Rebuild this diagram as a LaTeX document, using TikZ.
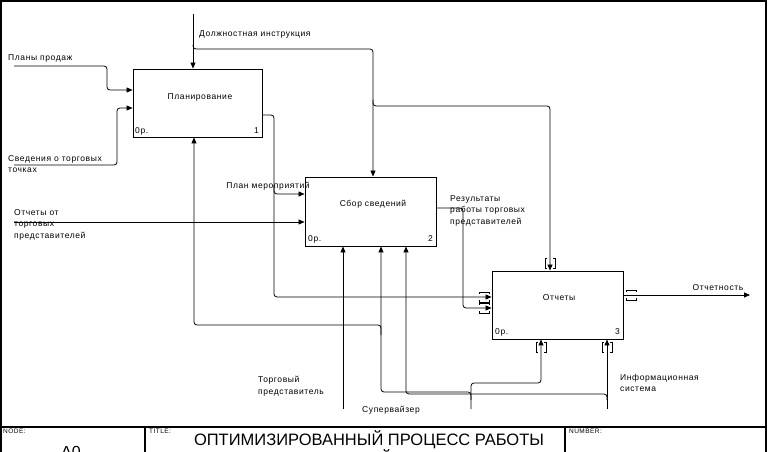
\documentclass[tikz,border=0pt]{standalone}
\usepackage{fontspec}
\setmainfont{Liberation Sans}
\newfontfamily\lblfont[LetterSpace=7]{Liberation Sans}
\usetikzlibrary{arrows.meta}
\tikzset{
  lbl/.style={font=\lblfont\fontsize{8.5}{11.5}\selectfont, inner sep=0pt, align=left},
  func/.style={draw, line width=0.9pt, minimum width=#1, inner sep=0pt},
  arr/.style={line width=0.8pt, rounded corners=3pt, -{Triangle[length=6pt,width=5pt]}},
  ln/.style={line width=0.8pt, rounded corners=3pt},
  brk/.style={line width=0.8pt},
  hdr/.style={font=\lblfont\fontsize{6.5}{7}\selectfont, inner sep=0pt, anchor=north west},
}
\newcommand{\tunV}[2]{%
  \draw[brk] (#1-3,#2) -- (#1-5,#2) -- (#1-5,#2+10) -- (#1-3,#2+10);
  \draw[brk] (#1+3,#2) -- (#1+5,#2) -- (#1+5,#2+10) -- (#1+3,#2+10);}
\newcommand{\tunH}[2]{%
  \draw[brk] (#1,#2-3) -- (#1,#2-5) -- (#1+10,#2-5) -- (#1+10,#2-3);
  \draw[brk] (#1,#2+3) -- (#1,#2+5) -- (#1+10,#2+5) -- (#1+10,#2+3);}
\begin{document}
\begin{tikzpicture}[x=1pt,y=-1pt]
\useasboundingbox (0,0) rectangle (772,452);
% frame
\draw[line width=1.2pt] (1,460) -- (1,1) -- (766,1) -- (766,460);
\draw[line width=1.2pt] (1,427) -- (766,427);
\draw[line width=1.2pt] (145,427) -- (145,460);
\draw[line width=1.2pt] (565,427) -- (565,460);
\node[hdr] (hnode) at (3,429) {NODE:};
\node[hdr] (htitle) at (149,429) {TITLE:};
\node[hdr] (hnum) at (569,429) {NUMBER:};
\node[inner sep=0pt, font=\fontsize{16}{16}\selectfont, anchor=north] (tnum) at (71,446) {A0};
\node[inner sep=0pt, font=\fontsize{16.5}{18}\selectfont, align=center, anchor=north] (ttl) at (369,430) {ОПТИМИЗИРОВАННЫЙ ПРОЦЕСС РАБОТЫ\\СУПЕРВАЙЗЕРА};

% boxes
\node[func=129pt, minimum height=68pt] (b1) at (197.5,103) {};
\node[func=131pt, minimum height=69pt] (b2) at (370.5,211.5) {};
\node[func=131pt, minimum height=68pt] (b3) at (557.5,305) {};
\node[lbl] (t1) at (200,97) {Планирование};
\node[lbl,anchor=west] (o1) at (135,131) {0р.};
\node[lbl,anchor=east] (n1) at (259,131) {1};
\node[lbl] (t2) at (373,204) {Сбор сведений};
\node[lbl,anchor=west] (o2) at (308,239) {0р.};
\node[lbl,anchor=east] (n2) at (433,239) {2};
\node[lbl] (t3) at (559,298) {Отчеты};
\node[lbl,anchor=west] (o3) at (495,332) {0р.};
\node[lbl,anchor=east] (n3) at (620,332) {3};

% free ends
\coordinate (srcDI) at (193,14);
\coordinate (srcPP) at (14,66);
\coordinate (srcST) at (14,165);
\coordinate (srcOT) at (14,222);
\coordinate (srcTP) at (343,409);
\coordinate (srcSV) at (471,409);
\coordinate (srcIS) at (607,409);
\coordinate (outR) at (750,295);

% controls
\draw[arr] (srcDI) -- (srcDI |- b1.north);
\draw[arr] (193,45) -- (193,49) -- (373,49) -- (373,49 |- b2.north);
\draw[arr] (373,100) -- (373,106) -- (550,106) -- (550,106 |- b3.north);
\tunV{550}{258}

% inputs
\draw[arr] (srcPP) -- (107,66) -- (107,90) -- (b1.west |- 0,90);
\draw[arr] (srcST) -- (117,165) -- (117,108) -- (b1.west |- 0,108);
\draw[arr] (b1.east |- 0,115) -- (274,115) -- (274,297) -- (b3.west |- 0,297);
\draw[arr] (274,185) -- (274,194) -- (b2.west |- 0,194);
\draw[arr] (srcOT) -- (srcOT -| b2.west);
\draw[arr] (b2.east |- 0,208) -- (463,208) -- (463,308) -- (b3.west |- 0,308);
\tunH{479}{297}
\tunH{479}{308}

% output
\draw[arr] (b3.east |- outR) -- (outR);
\tunH{626}{295}

% mechanisms
\draw[arr] (srcTP) -- (srcTP |- b2.south);
\draw[arr] (srcSV) -- (471,383) -- (541,383) -- (541,383 |- b3.south);
\draw[arr] (471,400) -- (471,392) -- (381,392) -- (381,392 |- b2.south);
\draw[arr] (381,335) -- (381,325) -- (194,325) -- (194,325 |- b1.south);
\draw[arr] (srcIS) -- (srcIS |- b3.south);
\draw[arr] (607,400) -- (607,394) -- (406,394) -- (406,394 |- b2.south);
\tunV{541}{342}
\tunV{607}{342}

% labels
\node[lbl,anchor=west] (lDI) at (199,34) {Должностная инструкция};
\node[lbl,anchor=west] (lPP) at (8,58) {Планы продаж};
\node[lbl,anchor=north west] (lST) at (8,155) {Сведения о торговых\\точках};
\node[lbl] (lPM) at (268,186) {План мероприятий};
\node[lbl,anchor=north west] (lOT) at (14,209) {Отчеты от\\торговых\\представителей};
\node[lbl,anchor=north west] (lRR) at (450,195) {Результаты\\работы торговых\\представителей};
\node[lbl] (lOUT) at (718,288) {Отчетность};
\node[lbl,anchor=north west] (lTP) at (258,376) {Торговый\\представитель};
\node[lbl] (lSV) at (391,410) {Супервайзер};
\node[lbl,anchor=north west] (lIS) at (620,374) {Информационная\\система};
\end{tikzpicture}
\end{document}
